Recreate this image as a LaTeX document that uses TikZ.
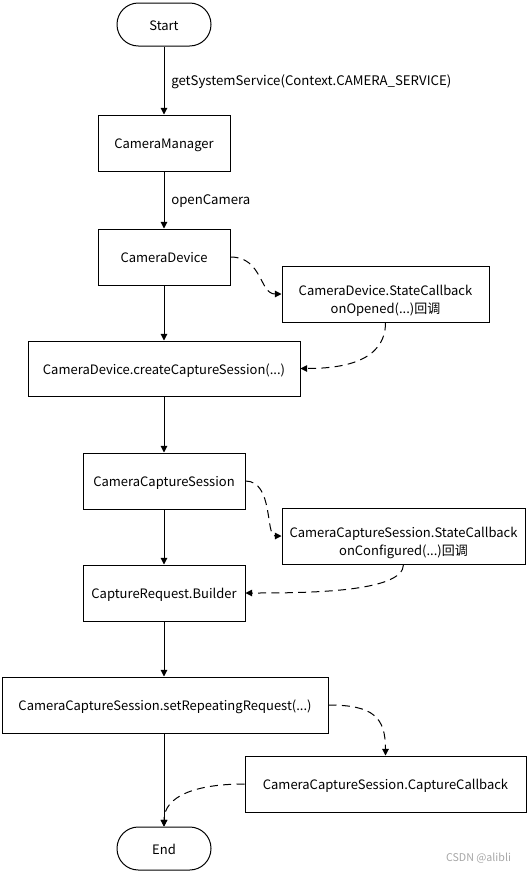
\documentclass[tikz,border=0pt]{standalone}
\usepackage{fontspec}
\setmainfont{Noto Sans CJK SC}
\usepackage{tikz}
\usetikzlibrary{positioning,shapes.geometric,arrows.meta,calc}

\newcommand{\boxstrut}{\rule[-2.5pt]{0pt}{13.5pt}}
\newcommand{\tallstrut}{\rule{0pt}{18pt}}
\tikzset{
  procbox/.style={draw, line width=0.75pt, minimum height=42pt, inner sep=0pt, align=center,
    font=\fontsize{9.75}{13.5}\selectfont, execute at begin node=\boxstrut, execute at end node=\boxstrut},
  termbox/.style={draw, line width=0.75pt, rounded corners=16pt, minimum width=70.5pt, minimum height=32.25pt,
    inner sep=0pt, font=\fontsize{9.75}{13.5}\selectfont, execute at begin node=\boxstrut},
  flow/.style={line width=0.75pt, -{Triangle[length=5pt,width=5pt]}},
  callback/.style={flow, dash pattern=on 6pt off 4pt},
  lbl/.style={anchor=west, inner sep=0.75pt, font=\fontsize{9.9}{13.5}\selectfont}
}

\begin{document}
\begin{tikzpicture}[x=0.75pt,y=0.75pt,yscale=-1,xscale=1]
        \useasboundingbox (0,0) rectangle (527,871);
        %Flowchart: Terminator
        \node [termbox] (start) at (164,24.5) {Start};
        %Flowchart: Process
        \node [procbox, minimum width=99pt] (mgr) at (164,143) {CameraManager};
        \node [procbox, minimum width=99pt] (dev) at (164,257) {CameraDevice};
        \node [procbox, minimum width=155.25pt] (devcb) at (385.5,294) {\tallstrut CameraDevice.StateCallback\\onOpened(...)回调};
        \node [procbox, minimum width=204pt, minimum height=41.25pt] (create) at (164,368.5) {CameraDevice.createCaptureSession(...)};
        \node [procbox, minimum width=121.5pt] (sess) at (164,481) {CameraCaptureSession};
        \node [procbox, minimum width=182.25pt] (sesscb) at (403.5,536) {\tallstrut CameraCaptureSession.StateCallback\\onConfigured(...)回调};
        \node [procbox, minimum width=121.5pt] (builder) at (164,593) {CaptureRequest.Builder};
        \node [procbox, minimum width=244.5pt] (repeat) at (165,705) {CameraCaptureSession.setRepeatingRequest(...)};
        \node [procbox, minimum width=210.75pt] (capcb) at (385.5,784) {CameraCaptureSession.CaptureCallback};
        %Flowchart: Terminator
        \node [termbox] (end) at (164,848.5) {End};
        % Text Node
        \node [lbl] (getsvc) at (170,81.5) {getSystemService(Context.CAMERA\_SERVICE)};
        \node [lbl] (opencam) at (170,201) {openCamera};
        \node [inner sep=0pt, text=black!35, font=\fontsize{8}{10}\selectfont] (mark) at (478.5,858) {CSDN @alibli};
        %Straight Lines
        \draw [flow] (start) -- (mgr);
        \draw [flow] (mgr) -- (dev);
        \draw [flow] (dev) -- (create);
        \draw [flow] (create) -- (sess);
        \draw [flow] (sess) -- (builder);
        \draw [flow] (builder) -- (repeat.north -| builder);
        \draw [flow] (repeat.south -| end) -- (end);
        %Curve Lines
        \draw [callback] (dev.east) .. controls +(32,0) and +(-22,0) .. (devcb.west);
        \draw [callback] (devcb.south) .. controls +(0,40) and +(40,0) .. (create.east);
        \draw [callback] (sess.east) .. controls +(28,0) and +(-16,0) .. (sesscb.west);
        \draw [callback] (sesscb.south) .. controls +(0,28) and +(60,0) .. (builder.east);
        \draw [callback] (repeat.east) .. controls +(45,0) and +(0,-38) .. (capcb.north);
        \draw [callback] (capcb.west) .. controls +(-50,0) and +(0,-30) .. (end.north);
        \end{tikzpicture}
\end{document}
